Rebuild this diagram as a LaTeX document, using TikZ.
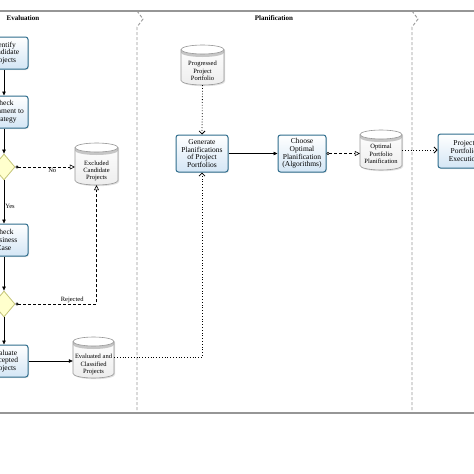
\documentclass[tikz,border=0pt]{standalone}
\usepackage{fontspec}
\setmainfont{Liberation Serif}
\usetikzlibrary{shapes.geometric,arrows.meta,shadows}
\definecolor{taskblue}{RGB}{46,108,140}
\definecolor{taskfill}{RGB}{212,230,245}
\definecolor{gatefill}{RGB}{255,255,205}
\definecolor{gateline}{RGB}{196,196,120}
\definecolor{lanegray}{RGB}{150,150,150}
\tikzset{
  task/.style={rectangle,rounded corners=2.5pt,draw=taskblue,line width=1pt,
    top color=white,bottom color=taskfill,align=center,inner sep=1pt,
    font=\fontsize{7.5}{7.8}\selectfont,
    drop shadow={opacity=0.2,shadow xshift=1pt,shadow yshift=-1pt}},
  gate/.style={diamond,draw=gateline,fill=gatefill,line width=0.8pt,
    minimum width=22pt,minimum height=26pt,inner sep=0pt},
  storebox/.style={rectangle,draw=none,inner sep=0pt},
  storetext/.style={align=center,inner sep=0.5pt,font=\fontsize{6.5}{7.3}\selectfont},
  seq/.style={-{Triangle[length=4pt,width=3.5pt]},line width=0.6pt},
  assoc/.style={dash pattern=on 3pt off 2pt,line width=0.6pt,
    {Circle[open,length=3pt]}-{Triangle[open,length=5pt,width=5pt]}},
  flow/.style={dash pattern=on 0.8pt off 2pt,line width=0.8pt,
    -{Straight Barb[length=3pt,width=6pt]}},
  lane/.style={dash pattern=on 3pt off 2pt,lanegray,line width=0.9pt},
  pooltitle/.style={font=\bfseries\fontsize{7}{8}\selectfont},
  lbl/.style={font=\fontsize{6.5}{7}\selectfont,inner sep=1pt}
}
% data store: name, x, y, width, height, text shift, text
\newcommand{\datastore}[7]{%
  \begin{scope}[shift={(#2,#3)}]
    \fill[black,opacity=0.12,shift={(1.2,1.2)}] ({-#4/2},{-#5/2+4.5})
      --({-#4/2},{#5/2-4.5}) arc[start angle=180,end angle=0,x radius=#4/2,y radius=4.5]
      --({#4/2},{-#5/2+4.5}) arc[start angle=0,end angle=-180,x radius=#4/2,y radius=4.5]
      --cycle;
    \shade[top color=white,bottom color=gray!14] ({-#4/2},{-#5/2+4.5})
      --({-#4/2},{#5/2-4.5}) arc[start angle=180,end angle=0,x radius=#4/2,y radius=4.5]
      --({#4/2},{-#5/2+4.5}) arc[start angle=0,end angle=-180,x radius=#4/2,y radius=4.5]
      --cycle;
    \fill[gray!45] ({-#4/2},{-#5/2+4.5})
      arc[start angle=180,end angle=0,x radius=#4/2,y radius=4.5]
      --++(0,3) arc[start angle=0,end angle=180,x radius=#4/2,y radius=4.5]--cycle;
    \filldraw[fill=white,draw=lanegray,line width=0.6pt] (0,{-#5/2+4.5})
      ellipse[x radius=#4/2,y radius=4.5];
    \draw[lanegray,line width=0.6pt] ({-#4/2},{-#5/2+4.5})
      --({-#4/2},{#5/2-4.5}) arc[start angle=180,end angle=0,x radius=#4/2,y radius=4.5]
      --({#4/2},{-#5/2+4.5});
  \end{scope}
  \node[storebox,minimum width=#4pt,minimum height=#5pt] (#1) at (#2,#3) {};
  \node[storetext] (#1text) at (#2,#3+#6) {#7};
}

\begin{document}
\begin{tikzpicture}[x=1pt,y=-1pt]
  \useasboundingbox (0,0) rectangle (474,474);
  \clip (0,0) rectangle (474,474);
  % pools
  \draw[lanegray,line width=1.2pt] (0,11)--(474,11);
  \draw[lanegray,line width=1.2pt] (0,413)--(474,413);
  \draw[lane] (137,11)--(143,19)--(137,27)--(137,413);
  \draw[lane] (412,11)--(418,19)--(412,27)--(412,413);
  \node[pooltitle] (evaltitle) at (23,18) {Evaluation};
  \node[pooltitle] (plantitle) at (274,18) {Planification};
  % evaluation
  \node[task,minimum width=48pt,minimum height=32pt] (identify) at (4,53)
    {Identify\\Candidate\\Projects};
  \node[task,minimum width=48pt,minimum height=32pt] (align) at (4,112)
    {Check\\Alignment to\\Strategy};
  \node[gate] (gateone) at (4,167) {};
  \node[task,minimum width=48pt,minimum height=32pt] (business) at (4,240)
    {Check\\Business\\Case};
  \node[gate] (gatetwo) at (4,304) {};
  \node[task,minimum width=48pt,minimum height=32pt] (evaluate) at (4,361)
    {Evaluate\\Accepted\\Projects};
  \datastore{excluded}{96.5}{164}{43}{42}{7}{Excluded\\Candidate\\Projects}
  \datastore{classified}{93.5}{357.5}{41}{41}{7}{Evaluated and\\Classified\\Projects}
  % planification
  \datastore{progressed}{202.5}{65}{43}{40}{6}{Progressed\\Project\\Portfolio}
  \node[task,minimum width=52pt,minimum height=37pt] (generate) at (202,153.5)
    {Generate\\Planifications\\of Project\\Portfolios};
  \node[task,minimum width=48pt,minimum height=37pt] (choose) at (302,153.5)
    {Choose\\Optimal\\Planification\\(Algorithms)};
  \datastore{optimal}{381}{150}{42}{40}{4}{Optimal\\Portfolio\\Planification}
  \node[task,minimum width=52pt,minimum height=34pt] (execution) at (464,151)
    {Project\\Portfolio\\Execution};
  % flows
  \draw[seq] (identify)--(align);
  \draw[seq] (align)--(gateone);
  \draw[seq] (gateone)--node[lbl,right,pos=0.6] {Yes} (business);
  \draw[seq] (business)--(gatetwo);
  \draw[seq] (gatetwo)--(evaluate);
  \draw[assoc] (gateone.east)--node[lbl,below,pos=0.62] {No} (gateone.east -| excluded.west);
  \draw[assoc] (gatetwo.east)-|node[lbl,above,pos=0.35] {Rejected} (excluded.south);
  \draw[seq] (evaluate.east)--(evaluate.east -| classified.west);
  \draw[flow] (classified.east)-|(generate.south);
  \draw[flow] (progressed.south)--(generate.north);
  \draw[seq] (generate)--(choose);
  \draw[assoc] (choose.east)--(choose.east -| optimal.west);
  \draw[flow] (optimal.east)--(optimal.east -| execution.west);
\end{tikzpicture}
\end{document}
